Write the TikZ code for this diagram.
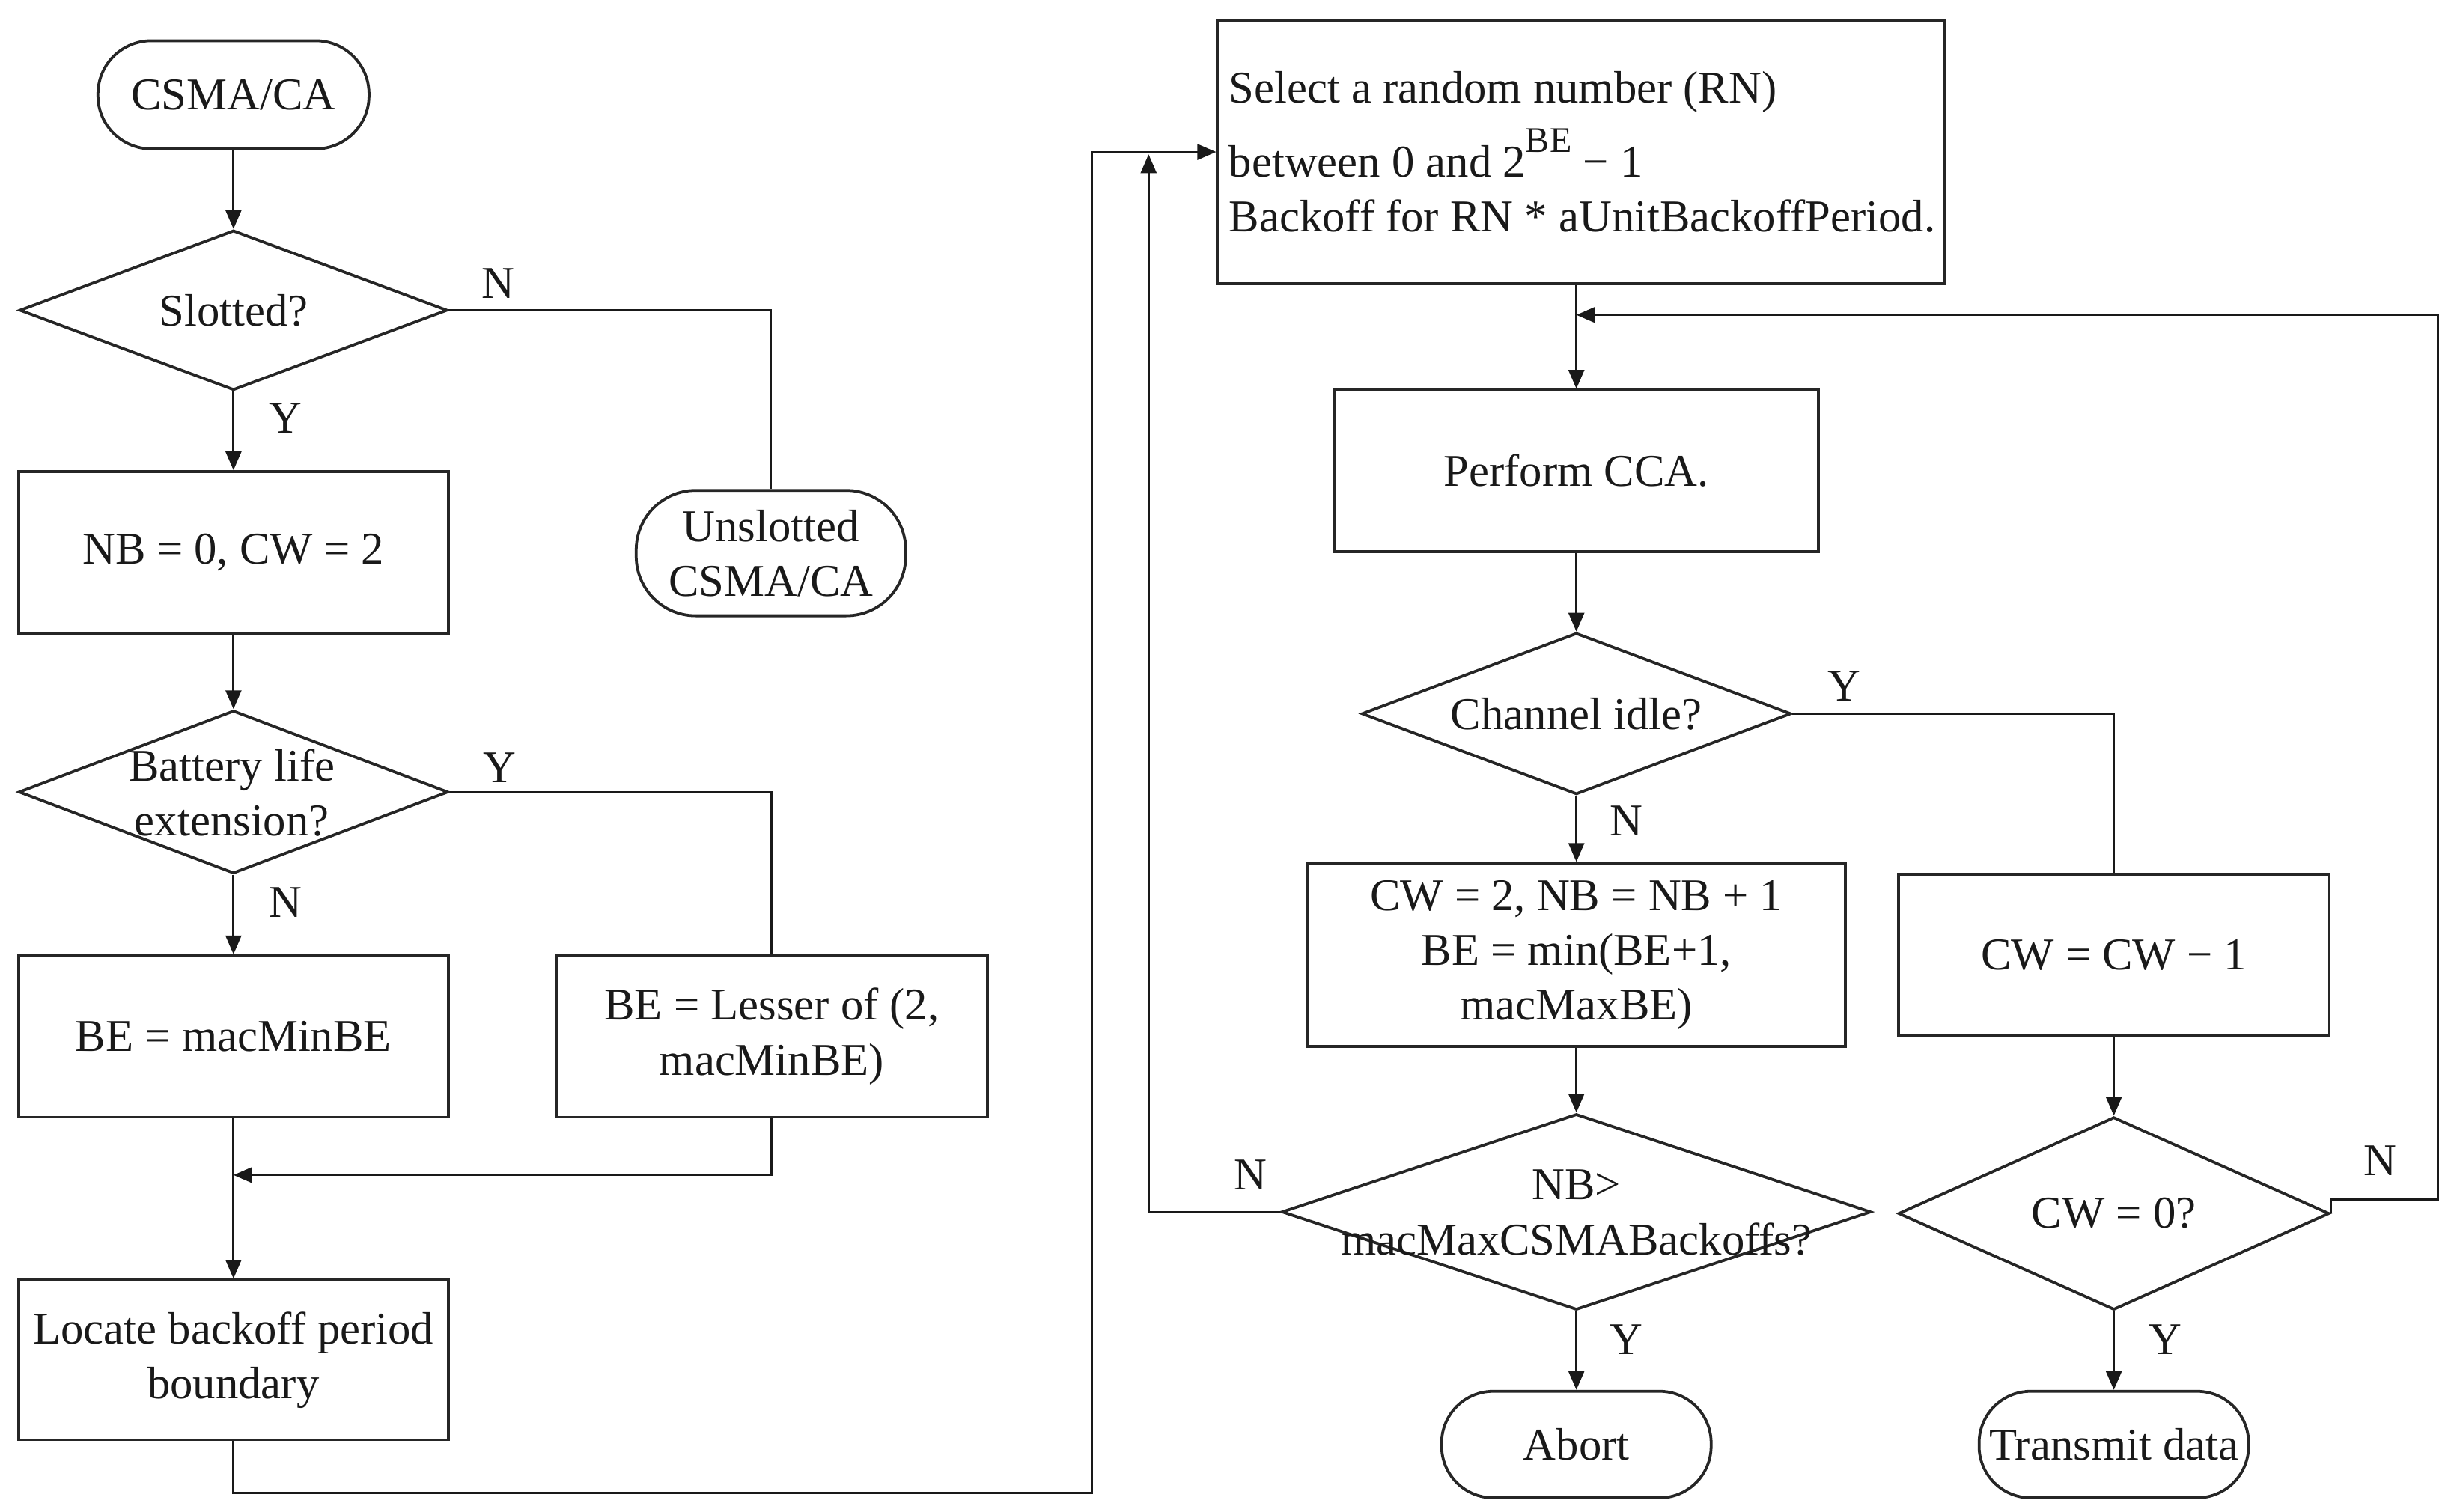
\documentclass[tikz,border=0pt]{standalone}
\usepackage{fontspec}
\setmainfont{Liberation Serif}
\usetikzlibrary{shapes.geometric,arrows.meta}
\begin{document}
\begin{tikzpicture}[x=0.5pt,y=-0.5pt,
  every node/.style={font=\fontsize{14.5}{17.5}\selectfont, text=black!90},
  proc/.style={draw=black!85, line width=0.9pt, rectangle, inner sep=0pt},
  term/.style={draw=black!85, line width=0.9pt, rectangle, rounded corners=16.5pt, inner sep=0pt},
  dec/.style={draw=black!85, line width=0.9pt, diamond, inner sep=0pt},
  txt/.style={align=center, inner sep=0pt},
  lbl/.style={inner sep=0pt},
  conn/.style={line width=0.7pt, draw=black!90},
  arr/.style={conn, -{Triangle[length=6pt,width=5pt]}},
]
\useasboundingbox (0,0) rectangle (1568,965);

% ---------- left column ----------
\node[term, minimum width=86.5pt, minimum height=34.5pt, rounded corners=17pt] (start) at (149,60.5) {CSMA/CA};
\node[dec, minimum width=136.5pt, minimum height=51pt] (slot) at (149,198) {};
\node[txt] (slotT) at (slot) {Slotted?};
\node[term, minimum width=86pt, minimum height=40pt, rounded corners=19pt, align=center] (unslot) at (492,353) {Unslotted\\CSMA/CA};
\node[proc, minimum width=137pt, minimum height=51.5pt] (nb) at (149,352.5) {NB = 0, CW = 2};
\node[dec, minimum width=137pt, minimum height=52pt] (batt) at (149,505.5) {};
\node[txt] (battT) at (148,506) {Battery life\\extension?};
\node[proc, minimum width=137pt, minimum height=51.5pt] (bemin) at (149,661.5) {BE = macMinBE};
\node[proc, minimum width=137.5pt, minimum height=51.5pt, align=center] (lesser) at (492.5,661.5) {BE = Lesser of (2,\\macMinBE)};
\node[proc, minimum width=137pt, minimum height=51pt, align=center] (locate) at (149,868) {Locate backoff period\\boundary};

% ---------- right column ----------
\node[proc, minimum width=232pt, minimum height=84pt] (big) at (1009,97) {};
\node[txt, align=left, anchor=west] (bigT) at (784,97) {Select a random number (RN)\\[4pt]between 0 and 2\raisebox{0.55em}{\fontsize{11.5}{11.5}\selectfont BE}~−~1\\Backoff for RN * aUnitBackoffPeriod.};
\node[proc, minimum width=154.5pt, minimum height=51.5pt] (cca) at (1006,300.5) {Perform CCA.};
\node[dec, minimum width=137pt, minimum height=51.5pt] (idle) at (1006,455.5) {};
\node[txt] (idleT) at (idle) {Channel idle?};
\node[proc, minimum width=171.5pt, minimum height=58.5pt, align=center] (cw2) at (1006,609.5) {CW = 2, NB = NB + 1\\BE = min(BE+1,\\macMaxBE)};
\node[proc, minimum width=137.5pt, minimum height=51.5pt] (cwm) at (1349,609.5) {CW = CW − 1};
\node[dec, minimum width=188pt, minimum height=62.5pt] (nbmax) at (1006,773.5) {};
\node[txt] (nbmaxT) at (1006,774) {NB>\\macMaxCSMABackoffs?};
\node[dec, minimum width=137.5pt, minimum height=61.5pt] (cw0) at (1349,774.5) {};
\node[txt] (cw0T) at (cw0) {CW = 0?};
\node[term, minimum width=86pt, minimum height=34pt] (abort) at (1006,922) {Abort};
\node[term, minimum width=86pt, minimum height=34pt] (trans) at (1349,922) {Transmit data};

% ---------- helper coordinates ----------
\coordinate (merge) at (149,750);
\coordinate (c1) at (697,953);
\coordinate (c2) at (733,98.5);
\coordinate (c3) at (1556,201);

% ---------- connectors ----------
\draw[arr] (start) -- (slot.north);
\draw[conn] (slot.east) -| (unslot.north);
\draw[arr] (slot.south) -- (nb.north);
\draw[arr] (nb.south) -- (batt.north);
\draw[conn] (batt.east) -| (lesser.north);
\draw[arr] (batt.south) -- (bemin.north);
\draw[arr] (lesser.south) |- (merge);
\draw[arr] (bemin.south) -- (locate.north);
\draw[arr] (locate.south) |- (c1) |- (big.west);
\draw[arr] (cca.north |- big.south) -- (cca.north);
\draw[arr] (cca.south) -- (idle.north);
\draw[conn] (idle.east) -| (cwm.north);
\draw[arr] (idle.south) -- (cw2.north);
\draw[arr] (cw2.south) -- (nbmax.north);
\draw[arr] (nbmax.west) -| (c2);
\draw[arr] (nbmax.south) -- (abort.north);
\draw[arr] (cwm.south) -- (cw0.north);
\draw[arr] (cw0.east) -- ++(0,-9) -| (c3) -- (cca.north |- c3);
\draw[arr] (cw0.south) -- (trans.north);

% ---------- branch labels ----------
\node[lbl] (l1) at (318,181) {N};
\node[lbl] (l2) at (182,267) {Y};
\node[lbl] (l3) at (319,490) {Y};
\node[lbl] (l4) at (182,576) {N};
\node[lbl] (l5) at (1177,438) {Y};
\node[lbl] (l6) at (1038,524) {N};
\node[lbl] (l7) at (798,750) {N};
\node[lbl] (l8) at (1038,855) {Y};
\node[lbl] (l9) at (1519,741) {N};
\node[lbl] (l10) at (1382,855) {Y};
\end{tikzpicture}
\end{document}
